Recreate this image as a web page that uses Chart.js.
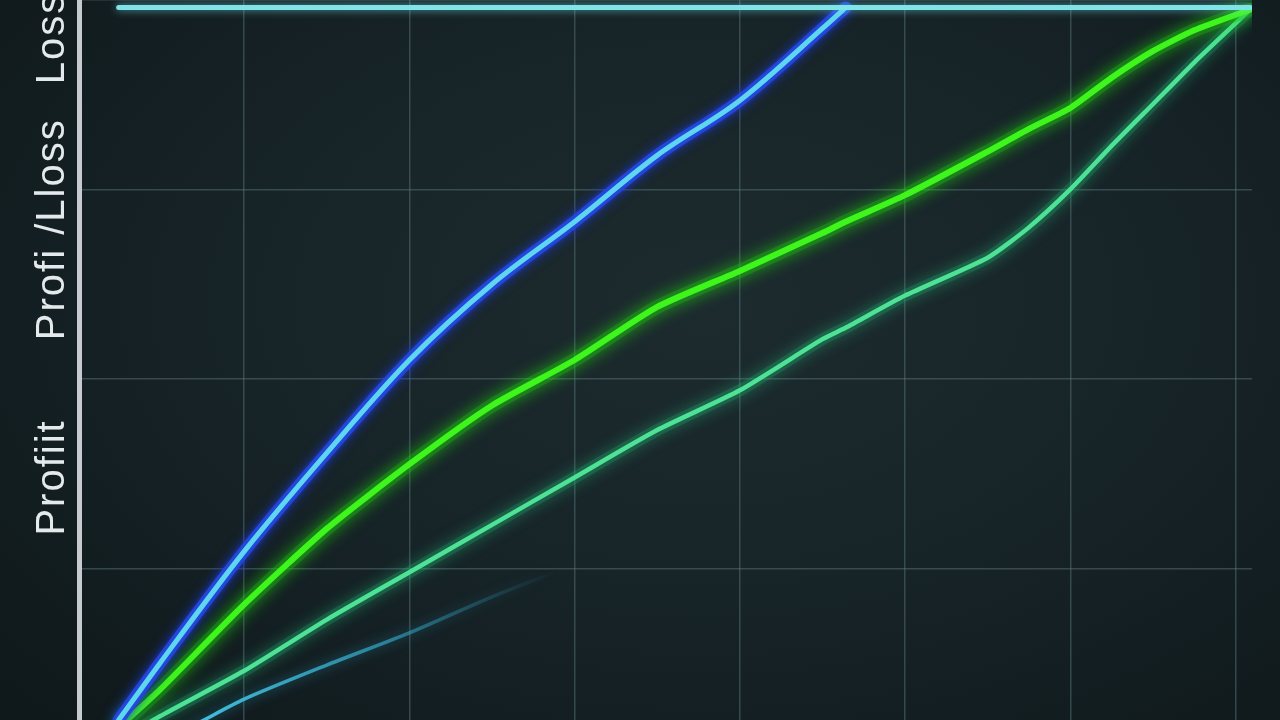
<!DOCTYPE html>
<html>
<head>
<meta charset="utf-8">
<script src="https://cdn.jsdelivr.net/npm/chart.js@4/dist/chart.umd.min.js"></script>
<style>
  html, body { margin:0; padding:0; }
  body {
    width:1280px; height:720px; overflow:hidden;
    background: radial-gradient(ellipse 75% 85% at 55% 42%, #1d2b2f 0%, #172428 45%, #0f181b 100%);
  }
  #pl { display:block; }
</style>
</head>
<body>
<canvas id="pl" width="1280" height="720"></canvas>
<script>
// x positions shared by all series
const xs = [0.24, 0.49, 1, 1.5, 2, 2.5, 3, 3.5, 4, 4.5, 4.64, 5, 5.5, 5.75, 6, 6.25, 6.5, 6.75, 7.09];

// series values
const ceiling = [2.96, null, null, null, null, null, null, null, null, null, null, null, null, null, null, null, null, null, 2.96];
const blueLine = [-0.8, -0.5, 0.09, 0.61, 1.1, 1.5, 1.83, 2.18, 2.47, 2.85, 2.96, null, null, null, null, null, null, null, null];
const greenLine = [-0.84, -0.64, -0.19, 0.21, 0.55, 0.86, 1.1, 1.38, 1.57, 1.77, 1.83, 1.97, 2.2, 2.32, 2.43, 2.59, 2.73, 2.84, 2.95];
const mintLine = [-0.91, -0.78, -0.54, -0.27, -0.02, 0.23, 0.48, 0.73, 0.94, 1.21, 1.27, 1.44, 1.64, 1.8, 2.0, 2.23, 2.45, 2.67, 2.95];
const faintLine = [-0.91, -0.91, -0.69, -0.51, -0.34, -0.15, 0.02, null, null, null, null, null, null, null, null, null, null, null, null];

// left side labels (rotated) and where they sit on the y scale
const sideLabels = ['Profiit', 'Profi /Lloss', 'Loss'];
const sideLabelAt = [0.48, 1.79, 2.8];

const pts = arr => xs.map((x, i) => ({ x, y: arr[i] }));

function fadeStroke(ctx){
  const chart = ctx.chart;
  if(!chart.chartArea) return '#38b8d6';
  const x = chart.scales.x;
  const g = chart.ctx.createLinearGradient(x.getPixelForValue(0.6), 0, x.getPixelForValue(2.9), 0);
  g.addColorStop(0, 'rgba(70,200,230,1)');
  g.addColorStop(0.55, 'rgba(50,165,195,0.7)');
  g.addColorStop(1, 'rgba(40,120,140,0)');
  return g;
}

// soft neon glow per dataset
const glow = {
  id: 'glow',
  beforeDatasetDraw(chart, args){
    const ds = chart.data.datasets[args.index];
    chart.ctx.save();
    if(ds.glowColor){
      chart.ctx.shadowColor = ds.glowColor;
      chart.ctx.shadowBlur = ds.glowBlur || 10;
    }
  },
  afterDatasetDraw(chart){
    chart.ctx.restore();
  }
};

const sideText = {
  id: 'sideText',
  afterDraw(chart){
    const ctx = chart.ctx;
    const y = chart.scales.y;
    ctx.save();
    ctx.fillStyle = '#e4eaec';
    ctx.font = '40px "Liberation Sans", Arial, sans-serif';
    ctx.letterSpacing = '2px';
    ctx.textAlign = 'center';
    ctx.textBaseline = 'alphabetic';
    sideLabels.forEach((t, i) => {
      ctx.save();
      ctx.translate(64, y.getPixelForValue(sideLabelAt[i]));
      ctx.rotate(-Math.PI/2);
      ctx.fillText(t, 0, 0);
      ctx.restore();
    });
    ctx.restore();
  }
};

const common = { pointRadius:0, pointHoverRadius:0, fill:false, spanGaps:true, borderCapStyle:'round', borderJoinStyle:'round' };
const smooth = { cubicInterpolationMode:'monotone' };

new Chart(document.getElementById('pl'), {
  type: 'line',
  data: {
    datasets: [
      { ...common, data: pts(ceiling), borderColor:'#7ee4e8', borderWidth:5, tension:0, glowColor:'rgba(120,230,235,0.7)', glowBlur:8, order:0 },
      { ...common, ...smooth, data: pts(blueLine), borderColor:'#5fd6f0', borderWidth:5, glowColor:'#2a4ff0', glowBlur:6, order:1 },
      { ...common, ...smooth, data: pts(blueLine), borderColor:'rgba(35,70,220,0.9)', borderWidth:12, glowColor:'#1d3ad0', glowBlur:12, order:2 },
      { ...common, data: pts(greenLine), borderColor:'#3ef51c', borderWidth:6, tension:0.2, glowColor:'rgba(40,230,20,1)', glowBlur:18, order:3 },
      { ...common, data: pts(greenLine), borderColor:'rgba(30,170,20,0.35)', borderWidth:14, tension:0.2, glowColor:'rgba(30,200,20,0.6)', glowBlur:14, order:4 },
      { ...common, data: pts(mintLine), borderColor:'#4de295', borderWidth:4.5, tension:0.2, glowColor:'rgba(40,200,130,1)', glowBlur:16, order:5 },
      { ...common, data: pts(mintLine), borderColor:'rgba(30,150,100,0.3)', borderWidth:12, tension:0.2, order:6 },
      { ...common, data: pts(faintLine), borderColor:fadeStroke, borderWidth:3.5, tension:0.25, glowColor:'rgba(40,150,180,0.8)', glowBlur:12, order:7 }
    ]
  },
  options: {
    responsive:false,
    animation:false,
    events:[],
    layout:{ padding:{ left:0, right:28, top:0, bottom:0 } },
    plugins:{ legend:{ display:false }, tooltip:{ enabled:false } },
    scales:{
      x:{
        type:'linear', min:0, max:7.1,
        ticks:{ display:false, stepSize:1, includeBounds:false },
        grid:{ color:'rgba(95,125,130,0.45)', lineWidth:1.5, drawTicks:false },
        border:{ display:false },
        afterFit(s){ s.height = 0; }
      },
      y:{
        min:-0.8, max:3.0,
        ticks:{ display:false, stepSize:1, includeBounds:false },
        grid:{ color:'rgba(95,125,130,0.45)', lineWidth:1.5, drawTicks:false },
        border:{ display:true, color:'#c5cbce', width:5 },
        afterFit(s){ s.width = 79; }
      }
    }
  },
  plugins:[glow, sideText]
});
</script>
</body>
</html>
